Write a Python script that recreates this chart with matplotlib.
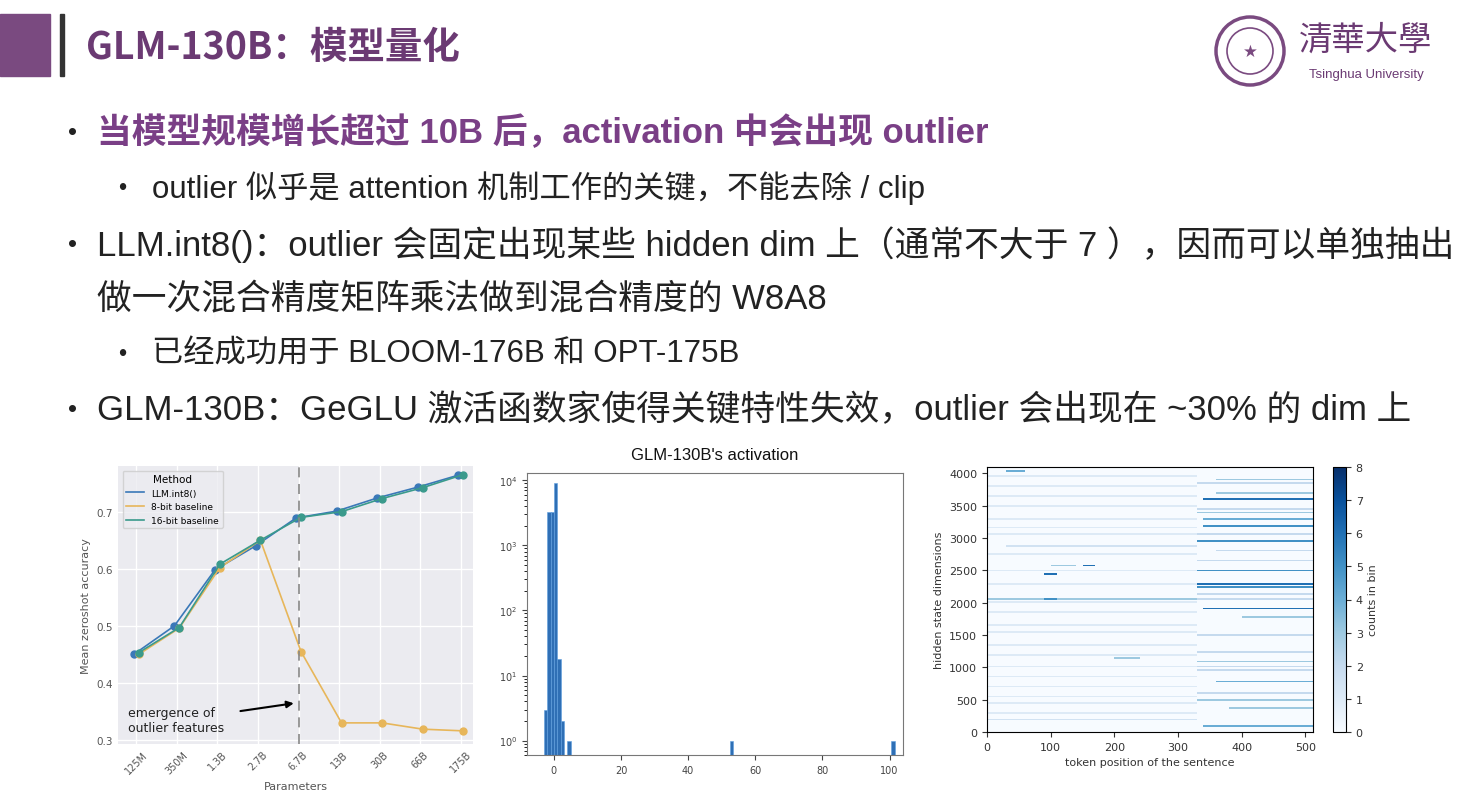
import numpy as np
import matplotlib
matplotlib.use("Agg")
import matplotlib.pyplot as plt
from matplotlib.patches import Rectangle, Ellipse

CJK = ["Liberation Sans", "Noto Sans CJK SC"]
W, H = 1464, 803

# ---------------- data ----------------
params = ["125M", "350M", "1.3B", "2.7B", "6.7B", "13B", "30B", "66B", "175B"]
acc_int8 = [0.450, 0.500, 0.598, 0.640, 0.689, 0.701, 0.724, 0.743, 0.764]
acc_8bit = [0.450, 0.496, 0.602, 0.650, 0.455, 0.330, 0.330, 0.319, 0.316]
acc_16bit = [0.453, 0.497, 0.608, 0.650, 0.690, 0.700, 0.723, 0.742, 0.765]

hist_centers = [-2.5, -1.5, -0.5, 0.5, 1.5, 2.5, 4.5, 53.0, 101.0]
hist_counts = [3, 3300, 3300, 9000, 18, 2, 1, 1, 1]

# heatmap streaks: (hidden dim, token start, token end, count level)
streaks = [
    (2070, 0, 330, 3), (2070, 90, 110, 5), (2880, 30, 330, 1.5), (2440, 90, 110, 6),
    (2580, 150, 170, 6), (190, 0, 330, 1.5), (3600, 340, 512, 6), (3190, 340, 512, 5),
    (3300, 340, 512, 4), (2950, 330, 512, 5), (2500, 330, 512, 5), (2300, 330, 512, 6),
    (2250, 330, 512, 5), (1900, 340, 512, 6), (1780, 400, 512, 3), (1100, 330, 512, 3),
    (780, 360, 512, 4), (100, 340, 512, 4), (380, 380, 512, 3), (3900, 360, 512, 3),
    (3700, 360, 512, 3), (3450, 330, 512, 2), (1500, 330, 512, 2), (1250, 330, 512, 2),
    (950, 330, 512, 2), (600, 330, 512, 2), (3050, 330, 512, 2), (2650, 330, 512, 2),
    (2150, 330, 512, 2), (1650, 0, 330, 1), (1350, 0, 330, 1), (1000, 0, 330, 1),
    (700, 0, 330, 1), (450, 0, 330, 1), (3300, 0, 330, 1), (3650, 0, 330, 1),
    (3950, 0, 330, 1), (2300, 0, 330, 1), (2750, 0, 330, 1), (3150, 0, 330, 1),
    (850, 0, 330, 1), (1850, 0, 330, 1), (3800, 0, 330, 1), (550, 0, 330, 1),
    (4020, 30, 60, 4), (2580, 100, 140, 3), (300, 0, 330, 1), (1200, 0, 330, 1),
    (2500, 0, 330, 1), (3500, 0, 330, 1), (1550, 0, 330, 1), (1150, 200, 240, 3),
    (3050, 0, 330, 1), (2000, 0, 330, 1), (3400, 330, 512, 3), (2800, 360, 512, 2),
    (1000, 330, 512, 2), (2050, 330, 512, 2), (3850, 330, 512, 2), (500, 330, 512, 3),
]

# ---------------- figure ----------------
fig = plt.figure(figsize=(W / 100, H / 100), dpi=100)
fig.patch.set_facecolor("white")

def fx(x): return x / W
def fy(y): return 1 - y / H

# title block
fig.patches.append(Rectangle((fx(0), fy(77)), fx(50), 62 / H, transform=fig.transFigure,
                             color="#7a4a80", zorder=0))
fig.patches.append(Rectangle((fx(60), fy(77)), fx(4), 62 / H, transform=fig.transFigure,
                             color="#333333", zorder=0))
fig.text(fx(86), fy(47), "GLM-130B：模型量化", fontsize=27, fontweight="bold",
         color="#6b3a73", family="Noto Sans CJK SC", va="center")

# logo
for r, lw in [(34, 2.5), (23, 1.2)]:
    fig.patches.append(Ellipse((fx(1250), fy(52)), 2 * r / W, 2 * r / H,
                               transform=fig.transFigure, fill=False, ec="#7a4a80", lw=lw))
fig.text(fx(1250), fy(52), "★", fontsize=12, color="#7a4a80", ha="center", va="center",
         family="DejaVu Sans")
fig.text(fx(1366), fy(40), "清華大學", fontsize=24, color="#6b3a73", ha="center", va="center",
         family="Noto Sans CJK TC")
fig.text(fx(1366), fy(75), "Tsinghua University", fontsize=9.5, color="#6b3a73",
         ha="center", va="center", family="Liberation Sans")

# bullets
MAIN, SUB = 25, 22.5
lines = [
    (68, 133, "•", 97, "当模型规模增长超过 10B 后，activation 中会出现 outlier", MAIN, "bold", "#7a3f86"),
    (118, 188, "•", 152, "outlier 似乎是 attention 机制工作的关键，不能去除 / clip", SUB, "normal", "#222222"),
    (68, 245, "•", 97, "LLM.int8()：outlier 会固定出现某些 hidden dim 上（通常不大于 7 ），因而可以单独抽出", MAIN, "normal", "#222222"),
    (None, 300, None, 97, "做一次混合精度矩阵乘法做到混合精度的 W8A8", MAIN, "normal", "#222222"),
    (118, 355, "•", 152, "已经成功用于 BLOOM-176B 和 OPT-175B", SUB, "normal", "#222222"),
    (68, 410, "•", 97, "GLM-130B：GeGLU 激活函数家使得关键特性失效，outlier 会出现在 ~30% 的 dim 上", MAIN, "normal", "#222222"),
]
for bx, y, b, tx, txt, fs, fw, col in lines:
    if b:
        fig.text(fx(bx), fy(y), b, fontsize=fs * 0.75, color="#222222", va="center", family=CJK)
    fig.text(fx(tx), fy(y), txt, fontsize=fs, fontweight=fw, color=col, va="center", family=CJK)

# ---------------- left chart ----------------
ax1 = fig.add_axes([fx(118), fy(745), fx(473 - 118), (745 - 467) / H])
ax1.set_facecolor("#ebebf0")
for s in ax1.spines.values():
    s.set_visible(False)
ax1.grid(True, color="white", lw=1)
ax1.set_axisbelow(True)
x = np.arange(len(params))
c_int8, c_8, c_16 = "#3a78b8", "#e7b65a", "#3a9a8c"
ax1.plot(x - 0.06, acc_int8, "-o", color=c_int8, ms=5, lw=1.2, label="LLM.int8()")
ax1.plot(x + 0.06, acc_8bit, "-o", color=c_8, ms=5, lw=1.2, label="8-bit baseline")
ax1.plot(x + 0.06, acc_16bit, "-o", color=c_16, ms=5, lw=1.2, label="16-bit baseline")
ax1.axvline(4, color="#888888", ls=(0, (6, 4)), lw=1.2)
ax1.set_xticks(x)
ax1.set_xticklabels(params, rotation=45, fontsize=7, color="#555555")
ax1.set_yticks([0.3, 0.4, 0.5, 0.6, 0.7])
ax1.set_yticklabels(["0.3", "0.4", "0.5", "0.6", "0.7"], fontsize=7.5, color="#555555")
ax1.tick_params(length=0)
ax1.set_ylim(0.293, 0.78)
ax1.set_xlim(-0.45, 8.3)
ax1.set_xlabel("Parameters", fontsize=8, color="#555555")
ax1.set_ylabel("Mean zeroshot accuracy", fontsize=8, color="#555555")
leg = ax1.legend(title="Method", loc="upper left", fontsize=6.5, title_fontsize=7.5,
                 frameon=True, facecolor="#ebebf0", edgecolor="#cccccc", markerscale=0)
ax1.annotate("", xy=(3.95, 0.365), xytext=(2.5, 0.35),
             arrowprops=dict(arrowstyle="-|>", color="black", lw=1.5))
ax1.text(-0.2, 0.335, "emergence of\noutlier features", fontsize=9, color="#222222",
         va="center", linespacing=1.2)

# ---------------- middle chart ----------------
ax2 = fig.add_axes([fx(527), fy(756), fx(903 - 527), (756 - 474) / H])
ax2.bar(hist_centers, hist_counts, width=1.0, color="#2f6fb5", edgecolor="#5fa0e0", lw=0.4)
ax2.set_yscale("log")
ax2.set_ylim(0.6, 1.3e4)
ax2.set_xlim(-8, 104)
ax2.set_xticks([0, 20, 40, 60, 80, 100])
ax2.tick_params(labelsize=7, colors="#444444")
for s in ax2.spines.values():
    s.set_color("#777777")
ax2.set_title("GLM-130B's activation", fontsize=12, color="#111111", pad=10,
              family="Liberation Sans")

# ---------------- right chart ----------------
ax3 = fig.add_axes([fx(987), fy(733), fx(1313 - 987), (733 - 468) / H])
rows, cols = 160, 512
M = np.zeros((rows, cols))
for dim, t0, t1, lev in streaks:
    r = int(dim / 4096 * rows)
    M[r, t0:t1] = np.maximum(M[r, t0:t1], lev)
im = ax3.imshow(M, origin="lower", aspect="auto", cmap="Blues", vmin=0, vmax=8,
                extent=[0, 512, 0, 4096], interpolation="nearest")
ax3.set_xticks([0, 100, 200, 300, 400, 500])
ax3.set_yticks(range(0, 4001, 500))
ax3.tick_params(labelsize=8, colors="#333333")
ax3.set_xlabel("token position of the sentence", fontsize=8, color="#333333")
ax3.set_ylabel("hidden state dimensions", fontsize=8, color="#333333")
cax = fig.add_axes([fx(1333), fy(733), fx(13), (733 - 468) / H])
cb = fig.colorbar(im, cax=cax)
cb.set_ticks(range(9))
cb.ax.tick_params(labelsize=8, colors="#333333")
cb.set_label("counts in bin", fontsize=8, color="#333333")

fig.savefig("out.png", dpi=100)
